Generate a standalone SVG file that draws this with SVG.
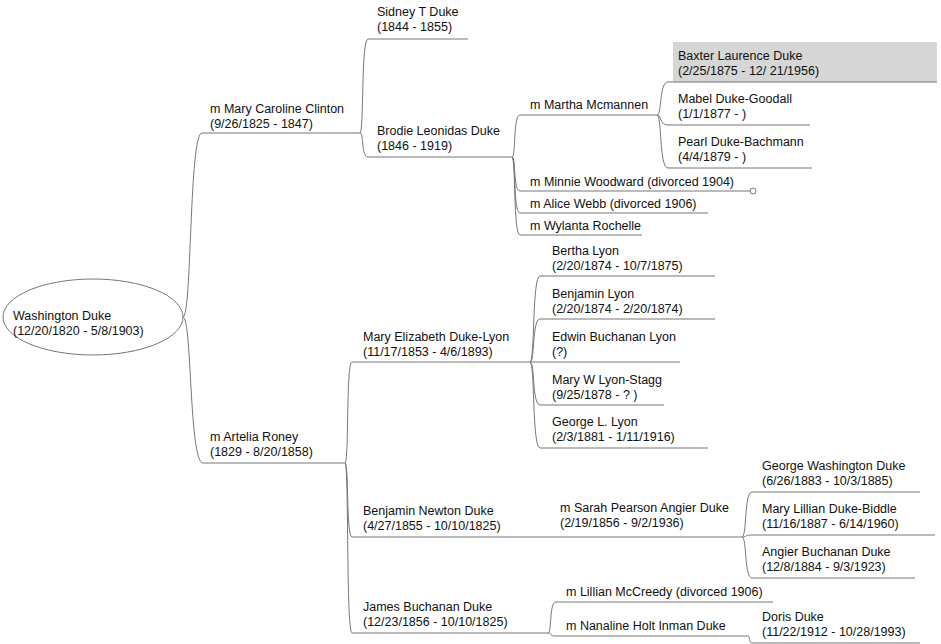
<svg xmlns="http://www.w3.org/2000/svg" width="941" height="644" viewBox="0 0 941 644">
<style>
text{font-family:"Liberation Sans",Arial,sans-serif;font-size:12.5px;fill:#111}
.u{stroke:#777;stroke-width:1;fill:none}
.c path{stroke:#777;stroke-width:1;fill:none}
</style>
<rect width="941" height="644" fill="#fff"/>
<g class="c" id="connectors">
<path d="M183 317 C192 317 189 133 202 133"/>
<path d="M183 317 C192 317 189 463 203 463"/>
<path d="M360 133 C364 133 361 39 368 39"/>
<path d="M360 133 C364 133 361 157 368 157"/>
<path d="M512 157 C516 157 513 115 520 115"/>
<path d="M512 157 C516 157 513 191 520 191"/>
<path d="M512 157 C516 157 513 213 520 213"/>
<path d="M512 157 C516 157 513 235 520 235"/>
<path d="M657 115 C662 115 659 82 668 82"/>
<path d="M657 115 C662 115 659 125 668 125"/>
<path d="M657 115 C662 115 659 168 668 168"/>
<path d="M345 463 C349 463 346 362 352 362"/>
<path d="M345 463 C349 463 346 537 352 537"/>
<path d="M345 463 C349 463 346 633 352 633"/>
<path d="M530 362 C535 362 532 276 540 276"/>
<path d="M530 362 C535 362 532 319 540 319"/>
<path d="M530 362 L540 362"/>
<path d="M530 362 C535 362 532 405 540 405"/>
<path d="M530 362 C535 362 532 448 540 448"/>
<path d="M540 537 L548 537"/>
<path d="M742 537 C747 537 744 492 752 492"/>
<path d="M742 537 C747 537 744 535 752 535"/>
<path d="M742 537 C747 537 744 578 752 578"/>
<path d="M548 633 C552 633 549 602 556 602"/>
<path d="M548 633 C552 633 549 636 556 636"/>
<path d="M748 636 C750 636 749 643 752 643"/>
</g>
<g id="root"><ellipse cx="93" cy="317" rx="90" ry="38" fill="#fff" stroke="#777"/><text x="13" y="320">Washington Duke</text><text x="13" y="335">(12/20/1820 - 5/8/1903)</text></g>
<g id="maryc"><text x="210" y="113">m Mary Caroline Clinton</text><text x="210" y="128">(9/26/1825 - 1847)</text><path class="u" d="M202 133H360"/></g>
<g id="artelia"><text x="210" y="441">m Artelia Roney</text><text x="210" y="456">(1829 - 8/20/1858)</text><path class="u" d="M203 463H345"/></g>
<g id="sidney"><text x="377" y="16">Sidney T Duke</text><text x="377" y="31">(1844 - 1855)</text><path class="u" d="M368 39H468"/></g>
<g id="brodie"><text x="377" y="135">Brodie Leonidas Duke</text><text x="377" y="150">(1846 - 1919)</text><path class="u" d="M368 157H512"/></g>
<g id="martha"><text x="530" y="109">m Martha Mcmannen</text><path class="u" d="M520 115H657"/></g>
<g id="baxter"><rect x="673" y="42" width="264" height="40" fill="#d6d6d6"/><text x="678" y="60">Baxter Laurence Duke</text><text x="678" y="75">(2/25/1875 - 12/ 21/1956)</text><path class="u" d="M668 82H937"/></g>
<g id="mabel"><text x="678" y="103">Mabel Duke-Goodall</text><text x="678" y="118">(1/1/1877 - )</text><path class="u" d="M668 125H810"/></g>
<g id="pearl"><text x="678" y="146">Pearl Duke-Bachmann</text><text x="678" y="161">(4/4/1879 - )</text><path class="u" d="M668 168H812"/></g>
<g id="minnie"><text x="530" y="186">m Minnie Woodward (divorced 1904)</text><path class="u" d="M520 191H750"/><circle cx="753" cy="191" r="3" fill="#fff" stroke="#777"/></g>
<g id="alice"><text x="530" y="208">m Alice Webb (divorced 1906)</text><path class="u" d="M520 213H708"/></g>
<g id="wylanta"><text x="530" y="230">m Wylanta Rochelle</text><path class="u" d="M520 235H642"/></g>
<g id="marye"><text x="363" y="341">Mary Elizabeth Duke-Lyon</text><text x="363" y="356">(11/17/1853 - 4/6/1893)</text><path class="u" d="M352 362H530"/></g>
<g id="bertha"><text x="552" y="255">Bertha Lyon</text><text x="552" y="270">(2/20/1874 - 10/7/1875)</text><path class="u" d="M540 276H715"/></g>
<g id="benl"><text x="552" y="298">Benjamin Lyon</text><text x="552" y="313">(2/20/1874 - 2/20/1874)</text><path class="u" d="M540 319H715"/></g>
<g id="edwin"><text x="552" y="341">Edwin Buchanan Lyon</text><text x="552" y="356">(?)</text><path class="u" d="M540 362H680"/></g>
<g id="maryw"><text x="552" y="384">Mary W Lyon-Stagg</text><text x="552" y="399">(9/25/1878 - ? )</text><path class="u" d="M540 405H664"/></g>
<g id="georgel"><text x="552" y="426">George L. Lyon</text><text x="552" y="441">(2/3/1881 - 1/11/1916)</text><path class="u" d="M540 448H708"/></g>
<g id="benn"><text x="363" y="515">Benjamin Newton Duke</text><text x="363" y="530">(4/27/1855 - 10/10/1825)</text><path class="u" d="M352 537H540"/></g>
<g id="sarah"><text x="560" y="512">m Sarah Pearson Angier Duke</text><text x="560" y="527">(2/19/1856 - 9/2/1936)</text><path class="u" d="M548 537H742"/></g>
<g id="gw"><text x="762" y="470">George Washington Duke</text><text x="762" y="485">(6/26/1883 - 10/3/1885)</text><path class="u" d="M752 492H920"/></g>
<g id="ml"><text x="762" y="513">Mary Lillian Duke-Biddle</text><text x="762" y="528">(11/16/1887 - 6/14/1960)</text><path class="u" d="M752 535H935"/></g>
<g id="angier"><text x="762" y="556">Angier Buchanan Duke</text><text x="762" y="571">(12/8/1884 - 9/3/1923)</text><path class="u" d="M752 578H915"/></g>
<g id="james"><text x="363" y="611">James Buchanan Duke</text><text x="363" y="626">(12/23/1856 - 10/10/1825)</text><path class="u" d="M352 633H548"/></g>
<g id="lillian"><text x="566" y="596">m Lillian McCreedy (divorced 1906)</text><path class="u" d="M556 602H773"/></g>
<g id="nanaline"><text x="566" y="630">m Nanaline Holt Inman Duke</text><path class="u" d="M556 636H748"/></g>
<g id="doris"><text x="762" y="621">Doris Duke</text><text x="762" y="636">(11/22/1912 - 10/28/1993)</text><path class="u" d="M752 643H920"/></g>
</svg>
